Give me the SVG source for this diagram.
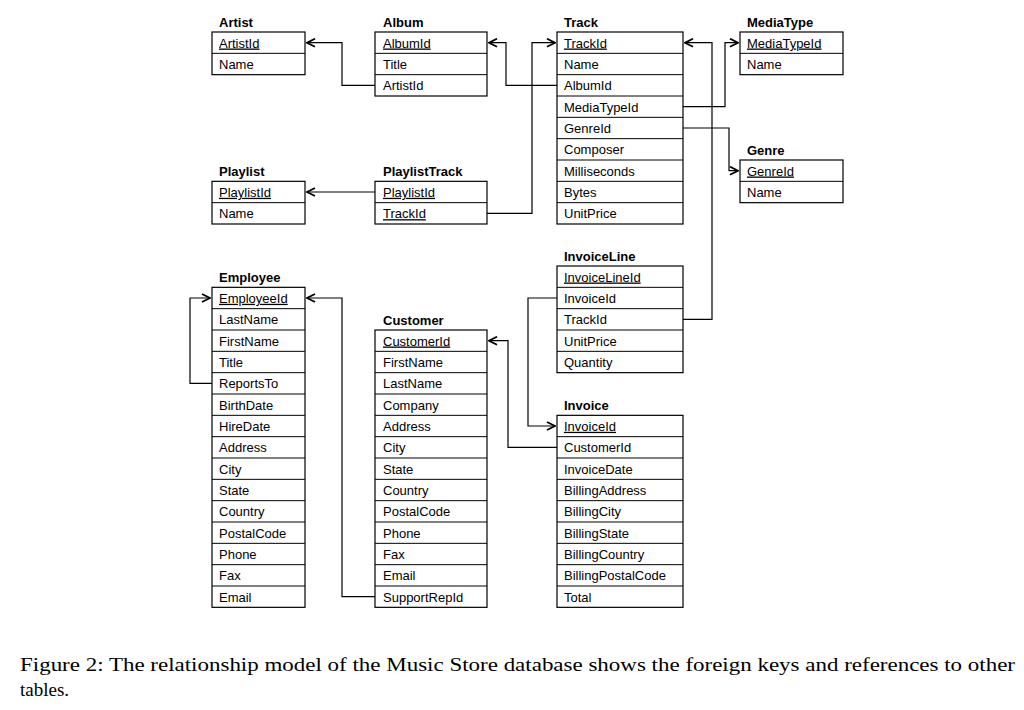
<svg xmlns="http://www.w3.org/2000/svg" width="1024" height="710" viewBox="0 0 1024 710">
<defs>
<marker id="a" markerWidth="10" markerHeight="10" refX="9" refY="5" orient="auto" markerUnits="userSpaceOnUse"><path d="M1,1 L9,5 L1,9" fill="none" stroke="#000" stroke-width="1.8"/></marker>
</defs>
<style>
.b{fill:#fff;stroke:#000;stroke-width:1.2}
.l{stroke:#000;stroke-width:1}
.h{font:bold 13px "Liberation Sans",Arial,sans-serif}
.f{font:13px "Liberation Sans",Arial,sans-serif}
.k{text-decoration:underline}
.c{fill:none;stroke:#000;stroke-width:1.2}
.cap{font:19px "Liberation Serif","Times New Roman",serif}
</style>
<rect width="1024" height="710" fill="#fff"/>
<g id="connectors">
<polyline class="c" points="375,85.3 342,85.3 342,42.7 307,42.7" marker-end="url(#a)"/>
<polyline class="c" points="557,85.3 506,85.3 506,42.7 489,42.7" marker-end="url(#a)"/>
<polyline class="c" points="487,213.3 532,213.3 532,42.7 555,42.7" marker-end="url(#a)"/>
<polyline class="c" points="375,192 307,192" marker-end="url(#a)"/>
<polyline class="c" points="683,106.7 725,106.7 725,42.7 738,42.7" marker-end="url(#a)"/>
<polyline class="c" points="683,128 729,128 729,170.7 738,170.7" marker-end="url(#a)"/>
<polyline class="c" points="683,319.3 712,319.3 712,42.7 685,42.7" marker-end="url(#a)"/>
<polyline class="c" points="557,298 528,298 528,426 555,426" marker-end="url(#a)"/>
<polyline class="c" points="557,447.3 508,447.3 508,340.7 489,340.7" marker-end="url(#a)"/>
<polyline class="c" points="375,596.7 342,596.7 342,298 307,298" marker-end="url(#a)"/>
<polyline class="c" points="212,383.3 190,383.3 190,298 210,298" marker-end="url(#a)"/>
</g>
<g id="Artist">
<text class="h" x="219" y="27">Artist</text>
<rect class="b" x="212" y="32" width="93" height="42.67"/>
<line class="l" x1="212" y1="53.33" x2="305" y2="53.33"/>
<text class="f k" x="219" y="47.5">ArtistId</text>
<text class="f" x="219" y="68.8">Name</text>
</g>
<g id="Album">
<text class="h" x="383" y="27">Album</text>
<rect class="b" x="375" y="32" width="112" height="64"/>
<line class="l" x1="375" y1="53.33" x2="487" y2="53.33"/>
<line class="l" x1="375" y1="74.67" x2="487" y2="74.67"/>
<text class="f k" x="383" y="47.5">AlbumId</text>
<text class="f" x="383" y="68.8">Title</text>
<text class="f" x="383" y="90.2">ArtistId</text>
</g>
<g id="Track">
<text class="h" x="564" y="27">Track</text>
<rect class="b" x="557" y="32" width="126" height="192"/>
<line class="l" x1="557" y1="53.33" x2="683" y2="53.33"/>
<line class="l" x1="557" y1="74.67" x2="683" y2="74.67"/>
<line class="l" x1="557" y1="96" x2="683" y2="96"/>
<line class="l" x1="557" y1="117.33" x2="683" y2="117.33"/>
<line class="l" x1="557" y1="138.67" x2="683" y2="138.67"/>
<line class="l" x1="557" y1="160" x2="683" y2="160"/>
<line class="l" x1="557" y1="181.33" x2="683" y2="181.33"/>
<line class="l" x1="557" y1="202.67" x2="683" y2="202.67"/>
<text class="f k" x="564" y="47.5">TrackId</text>
<text class="f" x="564" y="68.8">Name</text>
<text class="f" x="564" y="90.2">AlbumId</text>
<text class="f" x="564" y="111.5">MediaTypeId</text>
<text class="f" x="564" y="132.8">GenreId</text>
<text class="f" x="564" y="154.2">Composer</text>
<text class="f" x="564" y="175.5">Milliseconds</text>
<text class="f" x="564" y="196.8">Bytes</text>
<text class="f" x="564" y="218.2">UnitPrice</text>
</g>
<g id="MediaType">
<text class="h" x="747" y="27">MediaType</text>
<rect class="b" x="740" y="32" width="103" height="42.67"/>
<line class="l" x1="740" y1="53.33" x2="843" y2="53.33"/>
<text class="f k" x="747" y="47.5">MediaTypeId</text>
<text class="f" x="747" y="68.8">Name</text>
</g>
<g id="Genre">
<text class="h" x="747" y="155">Genre</text>
<rect class="b" x="740" y="160" width="103" height="42.67"/>
<line class="l" x1="740" y1="181.33" x2="843" y2="181.33"/>
<text class="f k" x="747" y="175.5">GenreId</text>
<text class="f" x="747" y="196.8">Name</text>
</g>
<g id="Playlist">
<text class="h" x="219" y="176">Playlist</text>
<rect class="b" x="212" y="181.33" width="93" height="42.67"/>
<line class="l" x1="212" y1="202.67" x2="305" y2="202.67"/>
<text class="f k" x="219" y="196.8">PlaylistId</text>
<text class="f" x="219" y="218.2">Name</text>
</g>
<g id="PlaylistTrack">
<text class="h" x="383" y="176">PlaylistTrack</text>
<rect class="b" x="375" y="181.33" width="112" height="42.67"/>
<line class="l" x1="375" y1="202.67" x2="487" y2="202.67"/>
<text class="f k" x="383" y="196.8">PlaylistId</text>
<text class="f k" x="383" y="218.2">TrackId</text>
</g>
<g id="InvoiceLine">
<text class="h" x="564" y="261">InvoiceLine</text>
<rect class="b" x="557" y="266" width="126" height="106.67"/>
<line class="l" x1="557" y1="287.33" x2="683" y2="287.33"/>
<line class="l" x1="557" y1="308.67" x2="683" y2="308.67"/>
<line class="l" x1="557" y1="330" x2="683" y2="330"/>
<line class="l" x1="557" y1="351.33" x2="683" y2="351.33"/>
<text class="f k" x="564" y="281.5">InvoiceLineId</text>
<text class="f" x="564" y="302.8">InvoiceId</text>
<text class="f" x="564" y="324.2">TrackId</text>
<text class="f" x="564" y="345.5">UnitPrice</text>
<text class="f" x="564" y="366.8">Quantity</text>
</g>
<g id="Employee">
<text class="h" x="219" y="282">Employee</text>
<rect class="b" x="212" y="287.33" width="93" height="320"/>
<path class="l" d="M212,308.67H305M212,330H305M212,351.33H305M212,372.67H305M212,394H305M212,415.33H305M212,436.67H305M212,458H305M212,479.33H305M212,500.67H305M212,522H305M212,543.33H305M212,564.67H305M212,586H305"/>
<text class="f k" x="219" y="302.8">EmployeeId</text>
<text class="f" x="219" y="324.2">LastName</text>
<text class="f" x="219" y="345.5">FirstName</text>
<text class="f" x="219" y="366.8">Title</text>
<text class="f" x="219" y="388.2">ReportsTo</text>
<text class="f" x="219" y="409.5">BirthDate</text>
<text class="f" x="219" y="430.8">HireDate</text>
<text class="f" x="219" y="452.2">Address</text>
<text class="f" x="219" y="473.5">City</text>
<text class="f" x="219" y="494.8">State</text>
<text class="f" x="219" y="516.2">Country</text>
<text class="f" x="219" y="537.5">PostalCode</text>
<text class="f" x="219" y="558.8">Phone</text>
<text class="f" x="219" y="580.2">Fax</text>
<text class="f" x="219" y="601.5">Email</text>
</g>
<g id="Customer">
<text class="h" x="383" y="325">Customer</text>
<rect class="b" x="375" y="330" width="112" height="277.33"/>
<path class="l" d="M375,351.33H487M375,372.67H487M375,394H487M375,415.33H487M375,436.67H487M375,458H487M375,479.33H487M375,500.67H487M375,522H487M375,543.33H487M375,564.67H487M375,586H487"/>
<text class="f k" x="383" y="345.5">CustomerId</text>
<text class="f" x="383" y="366.8">FirstName</text>
<text class="f" x="383" y="388.2">LastName</text>
<text class="f" x="383" y="409.5">Company</text>
<text class="f" x="383" y="430.8">Address</text>
<text class="f" x="383" y="452.2">City</text>
<text class="f" x="383" y="473.5">State</text>
<text class="f" x="383" y="494.8">Country</text>
<text class="f" x="383" y="516.2">PostalCode</text>
<text class="f" x="383" y="537.5">Phone</text>
<text class="f" x="383" y="558.8">Fax</text>
<text class="f" x="383" y="580.2">Email</text>
<text class="f" x="383" y="601.5">SupportRepId</text>
</g>
<g id="Invoice">
<text class="h" x="564" y="410">Invoice</text>
<rect class="b" x="557" y="415.33" width="126" height="192"/>
<path class="l" d="M557,436.67H683M557,458H683M557,479.33H683M557,500.67H683M557,522H683M557,543.33H683M557,564.67H683M557,586H683"/>
<text class="f k" x="564" y="430.8">InvoiceId</text>
<text class="f" x="564" y="452.2">CustomerId</text>
<text class="f" x="564" y="473.5">InvoiceDate</text>
<text class="f" x="564" y="494.8">BillingAddress</text>
<text class="f" x="564" y="516.2">BillingCity</text>
<text class="f" x="564" y="537.5">BillingState</text>
<text class="f" x="564" y="558.8">BillingCountry</text>
<text class="f" x="564" y="580.2">BillingPostalCode</text>
<text class="f" x="564" y="601.5">Total</text>
</g>
<text class="cap" x="20" y="671" textLength="995" lengthAdjust="spacingAndGlyphs">Figure 2: The relationship model of the Music Store database shows the foreign keys and references to other</text>
<text class="cap" x="20" y="696">tables.</text>
</svg>
